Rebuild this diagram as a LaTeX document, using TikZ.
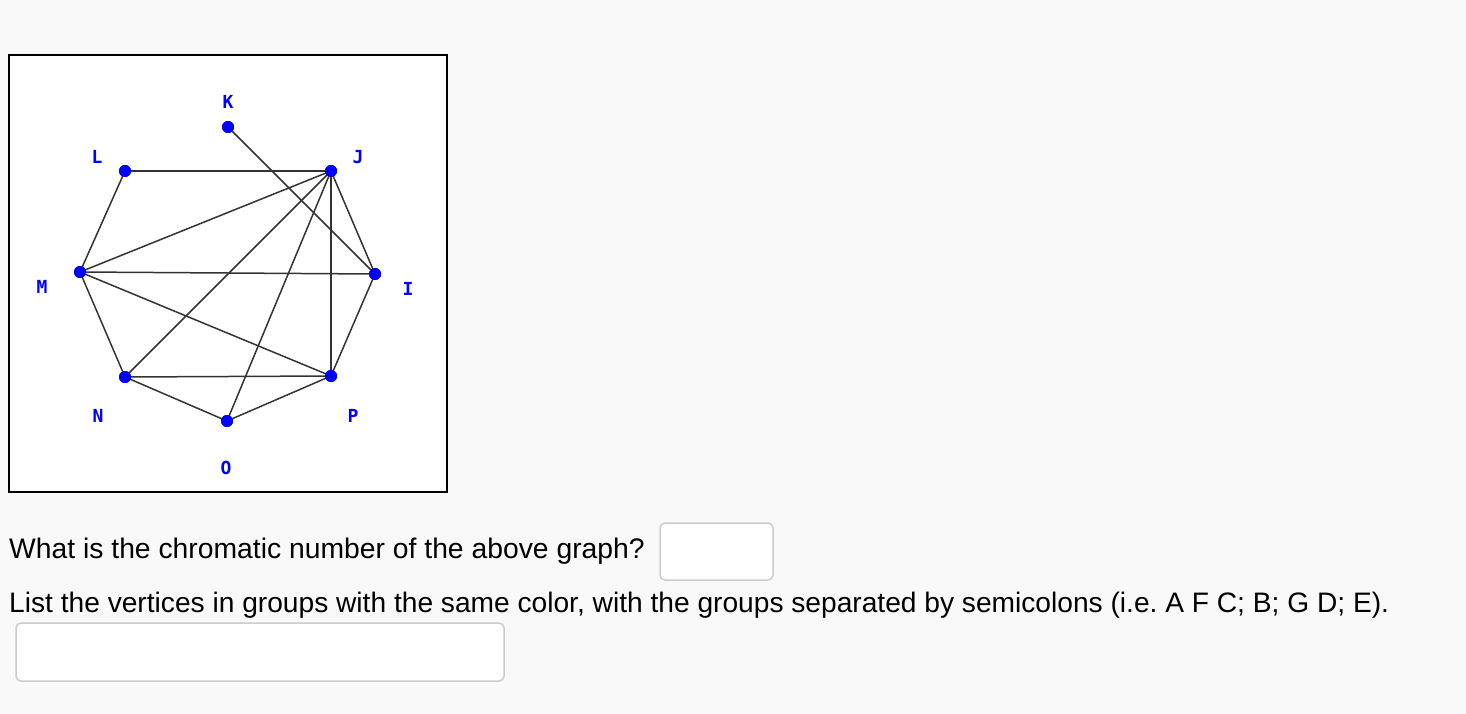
\documentclass[tikz,border=0pt]{standalone}
\usepackage{fontspec}
\setmainfont{Liberation Sans}
\newfontfamily\labelfont{DejaVu Sans Mono}
\definecolor{pagebg}{HTML}{F9F9F9}
\definecolor{boxline}{HTML}{CCCCCC}
\definecolor{edgegray}{HTML}{333333}
\definecolor{dotblue}{RGB}{0,0,255}

\tikzset{
    vertex/.style={circle,fill=dotblue,inner sep=0pt,minimum size=12pt},
    vlabel/.style={text=dotblue,font=\labelfont\bfseries\fontsize{18}{18}\selectfont},
    edge/.style={draw=edgegray,line width=1.5pt},
    inputbox/.style={draw=boxline,fill=white,line width=1.5pt,rounded corners=5pt},
    question/.style={anchor=base west,inner sep=0pt,font=\fontsize{28.3}{32}\selectfont}
}

\begin{document}
\begin{tikzpicture}[x=1pt,y=-1pt]
        \fill[pagebg] (0,0) rectangle (1466,714);
        \useasboundingbox (0,0) rectangle (1466,714);
        \draw[fill=white,line width=2pt] (9,55) rectangle (447,492);

        % vertices
        \node[vertex] (K) at (228,127) {};
        \node[vertex] (L) at (125,171) {};
        \node[vertex] (J) at (331,171) {};
        \node[vertex] (M) at (80,272) {};
        \node[vertex] (I) at (375,274) {};
        \node[vertex] (N) at (125,377) {};
        \node[vertex] (P) at (331,376) {};
        \node[vertex] (O) at (227,421) {};

        \node[vlabel] (lK) at (228,102) {K};
        \node[vlabel] (lL) at (97,157) {L};
        \node[vlabel] (lJ) at (358,157) {J};
        \node[vlabel] (lM) at (42,287) {M};
        \node[vlabel] (lI) at (408,289) {I};
        \node[vlabel] (lN) at (98,416) {N};
        \node[vlabel] (lP) at (353,416) {P};
        \node[vlabel] (lO) at (226,468) {O};

        % edges
        \draw[edge] (K.center) -- (I.center);
        \draw[edge] (L.center) -- (J.center);
        \draw[edge] (L.center) -- (M.center);
        \draw[edge] (J.center) -- (M.center);
        \draw[edge] (J.center) -- (N.center);
        \draw[edge] (J.center) -- (O.center);
        \draw[edge] (J.center) -- (P.center);
        \draw[edge] (J.center) -- (I.center);
        \draw[edge] (M.center) -- (I.center);
        \draw[edge] (M.center) -- (P.center);
        \draw[edge] (M.center) -- (N.center);
        \draw[edge] (N.center) -- (P.center);
        \draw[edge] (N.center) -- (O.center);
        \draw[edge] (O.center) -- (P.center);
        \draw[edge] (I.center) -- (P.center);

        % redraw the dots on top
        \foreach \v in {K,L,J,M,I,N,P,O}
            \fill[dotblue] (\v) circle (6pt);

        \node[question] (q1) at (9,558) {What is the chromatic number of the above graph?};
        \draw[inputbox] (660,523) rectangle (773,580);
        \node[question,font=\fontsize{28.15}{32}\selectfont] (q2) at (9,612) {List the vertices in groups with the same color, with the groups separated by semicolons (i.e.\ A F C; B; G D; E).};
        \draw[inputbox] (16,623) rectangle (504,681);
    \end{tikzpicture}
\end{document}
